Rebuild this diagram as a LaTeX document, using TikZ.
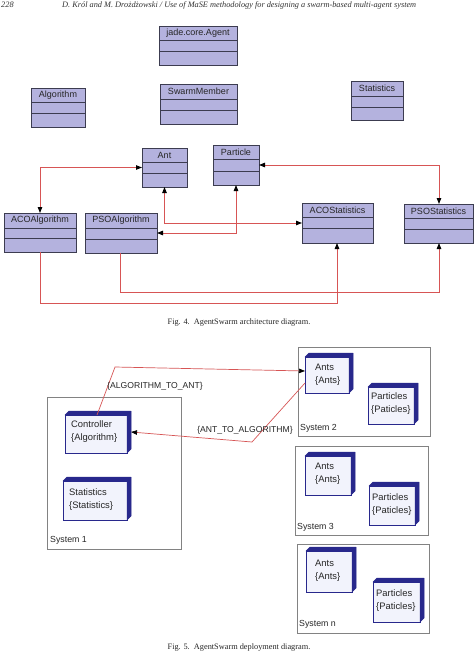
\documentclass[tikz,border=0pt]{standalone}
\usepackage{fontspec}
\setmainfont{Liberation Serif}
\setsansfont{Liberation Sans}
\usetikzlibrary{arrows.meta}
\definecolor{classfill}{RGB}{180,178,222}
\definecolor{classline}{RGB}{60,60,80}
\definecolor{conncol}{RGB}{215,85,85}
\definecolor{navy}{RGB}{40,40,140}
\definecolor{nodefill}{RGB}{242,243,252}
\definecolor{sysline}{RGB}{130,130,130}
\tikzset{
  classbox/.style={draw=classline, fill=classfill, line width=0.9pt, anchor=north west, inner sep=0pt, outer sep=0pt},
  divider/.style={draw=classline, line width=0.8pt},
  classtitle/.style={font=\sffamily\fontsize{9}{10}\selectfont, inner sep=0pt, text=black!85},
  conn/.style={draw=conncol, line width=1pt, >={Triangle[length=6pt,width=4.5pt,color=black]}},
  endtip/.style={->},
  bothtips/.style={<->},
  sysbox/.style={draw=sysline, fill=white, line width=0.6pt},
  systext/.style={font=\sffamily\fontsize{8.8}{10}\selectfont, anchor=base west, inner sep=0pt, text=black!85},
  depbox/.style={draw=navy, fill=nodefill, line width=0.7pt, anchor=north west, inner sep=0pt, outer sep=0pt},
  deptext/.style={font=\sffamily\fontsize{9.4}{11}\selectfont, anchor=base west, inner sep=0pt, text=black!85},
  msglabel/.style={font=\sffamily\fontsize{8.6}{10}\selectfont, inner sep=0pt, text=black!85},
  headfont/.style={font=\fontsize{8.3}{10}\selectfont\itshape, inner sep=0pt, text=black!80},
  capfont/.style={font=\fontsize{8.3}{10}\selectfont, inner sep=0pt, text=black!85}
}
\newcommand{\umlclass}[8]{%
  \node[classbox, minimum width=#4pt, minimum height=#5pt] (#1) at (#2,#3) {};
  \node[classtitle] (#1-t) at ([yshift={-#6pt/2}]#1.north) {#8};
  \draw[divider] ([yshift=-#6pt]#1.north west) -- ([yshift=-#6pt]#1.north east);
  \draw[divider] ([yshift=-#7pt]#1.north west) -- ([yshift=-#7pt]#1.north east);
}
\newcommand{\depnode}[9]{%
  \node[depbox, minimum width=#4pt, minimum height=#5pt] (#1) at (#2,#3) {};
  \filldraw[navy, line width=0.5pt, line join=round] (#1.north west) -- ++(4,-4) -- ([shift={(4pt,4pt)}]#1.north east)
     -- ([shift={(4pt,4pt)}]#1.south east) -- (#1.south east) -- (#1.north east) -- cycle;
  \node[deptext] (#1-a) at (#6,#7+3.3) {#8};
  \node[deptext] (#1-b) at (#6,#7+16.3) {#9};
}
\begin{document}
\begin{tikzpicture}[x=1pt,y=-1pt]
\useasboundingbox (0,0) rectangle (474,651);
\fill[white] (0,0) rectangle (474,651);
% header
\node[headfont, anchor=west] (pagenum) at (1,5) {228};
\node[headfont, anchor=west] (hdr) at (62,5) {D. Król and M. Drożdżowski / Use of MaSE methodology for designing a swarm-based multi-agent system};
% ---- class diagram ----
\umlclass{agent}{159}{26}{78}{39}{14}{25}{jade.core.Agent}
\umlclass{algorithm}{31}{88}{54}{39}{14}{25}{Algorithm}
\umlclass{swarm}{160}{84}{77}{40}{15}{26}{SwarmMember}
\umlclass{stats}{351}{81}{52}{39}{15}{26}{Statistics}
\umlclass{ant}{142}{148}{45}{39}{14}{25}{Ant}
\umlclass{particle}{213}{145}{46}{40}{14}{26}{Particle}
\umlclass{acoalg}{4}{213}{72}{39}{15}{25}{ACOAlgorithm}
\umlclass{psoalg}{85}{213}{72}{40}{15}{26}{PSOAlgorithm}
\umlclass{acostat}{302}{203}{71}{40}{14}{25}{ACOStatistics}
\umlclass{psostat}{404}{204}{69}{39}{14}{25}{PSOStatistics}
% connectors
\draw[conn, bothtips] ([xshift=36pt]acoalg.north west) |- (ant.west);
\draw[conn, bothtips] (particle.east) -| ([xshift=35pt]psostat.north west);
\draw[conn, bothtips] (ant.south) |- (acostat.west);
\draw[conn, bothtips] (particle.south) |- (psoalg.east);
\draw[conn, endtip] ([xshift=36pt]acoalg.south west) -- ++(0,51) -| ([xshift=35pt]acostat.south west);
\draw[conn, endtip] ([xshift=35pt]psoalg.south west) -- ++(0,39) -| ([xshift=35pt]psostat.south west);
\node[capfont] (cap4) at (239,323) {Fig. 4.\ \ AgentSwarm architecture diagram.};
% ---- deployment diagram ----
\node[sysbox, anchor=north west, minimum width=134pt, minimum height=152pt, inner sep=0pt] (sys1) at (47,397) {};
\node[sysbox, anchor=north west, minimum width=132pt, minimum height=89pt, inner sep=0pt] (sys2) at (298,347) {};
\node[sysbox, anchor=north west, minimum width=133pt, minimum height=89pt, inner sep=0pt] (sys3) at (295,446) {};
\node[sysbox, anchor=north west, minimum width=132pt, minimum height=89pt, inner sep=0pt] (sysn) at (297,544) {};
\node[systext] (sys1-l) at (50,542) {System 1};
\node[systext] (sys2-l) at (300,430) {System 2};
\node[systext] (sys3-l) at (297,529) {System 3};
\node[systext] (sysn-l) at (299,626) {System n};
\depnode{controller}{65}{415}{62}{38}{71}{424}{Controller}{\{Algorithm\}}
\depnode{statnode}{63}{481}{64}{39}{69}{492}{Statistics}{\{Statistics\}}
\depnode{antsA}{305}{357}{44}{36}{315}{367}{Ants}{\{Ants\}}
\depnode{partA}{368}{387}{46}{37}{371}{396}{Particles}{\{Paticles\}}
\depnode{antsB}{305}{456}{46}{39}{315}{466}{Ants}{\{Ants\}}
\depnode{partB}{369}{486}{46}{39}{372}{497}{Particles}{\{Paticles\}}
\depnode{antsC}{306}{551}{46}{41}{315}{563}{Ants}{\{Ants\}}
\depnode{partC}{373}{582}{47}{40}{376}{593}{Particles}{\{Paticles\}}
% messages
\coordinate (a2cbend) at (115,367);
\coordinate (c2abend) at (252,442);
\draw[conn, line width=0.7pt, endtip] ([xshift=32pt]controller.north west) -- (a2cbend) -- ([yshift=4pt]antsA.west);
\draw[conn, line width=0.7pt, endtip] ([yshift=-8pt]antsA.west) -- (c2abend) -- ([xshift=4pt,yshift=2pt]controller.east);
\node[msglabel] (a2c) at (155,386) {\{ALGORITHM\_TO\_ANT\}};
\node[msglabel] (c2a) at (245,430) {\{ANT\_TO\_ALGORITHM\}};
\node[capfont, anchor=south] (cap5) at (239,651) {Fig. 5.\ \ AgentSwarm deployment diagram.};
\end{tikzpicture}
\end{document}
